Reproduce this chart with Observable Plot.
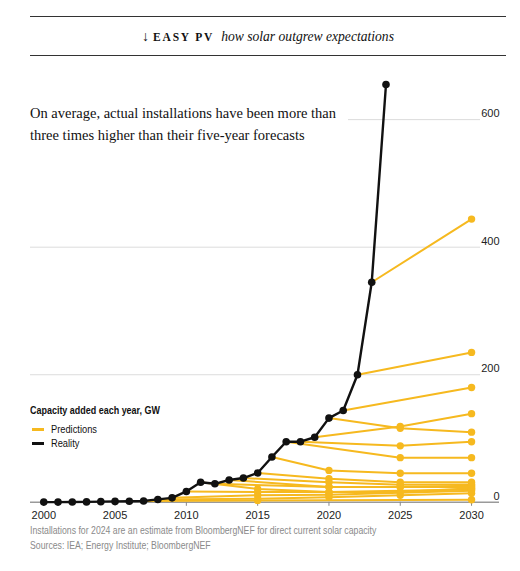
<!DOCTYPE html>
<html><head><meta charset="utf-8">
<script src="https://cdn.jsdelivr.net/npm/d3@7"></script>
<script src="https://cdn.jsdelivr.net/npm/@observablehq/plot@0.6"></script>
<style>
body{margin:0;background:#fff;width:520px;height:571px;overflow:hidden;font-family:"Liberation Sans",sans-serif;color:#111;}
#wrap{position:relative;width:520px;height:571px;}
.header{position:absolute;left:30px;top:16px;width:476px;height:38px;border-top:1.3px solid #333;border-bottom:1.3px solid #333;text-align:center;font-family:"Liberation Serif",serif;line-height:38px;color:#111;}
.header .arr{font-size:14px;font-weight:bold;margin-right:4px;}
.header .kick{font-weight:bold;font-size:11.5px;letter-spacing:1.8px;}
.header .sub{font-style:italic;font-size:13.6px;margin-left:3px;}
#chart{position:absolute;left:0;top:60px;}
.note{position:absolute;left:30px;top:102px;padding-right:12px;background:#fff;font-family:"Liberation Serif",serif;font-size:14.5px;line-height:22px;color:#111;z-index:2;white-space:nowrap;}
.legend{position:absolute;left:30px;top:400px;color:#111;z-index:2;}
.sq{display:inline-block;transform-origin:left center;white-space:nowrap;}
.legend .lt{font-weight:bold;font-size:10.8px;margin-bottom:6px;transform:scaleX(0.83);}
.legend .it{height:14px;line-height:14px;display:flex;align-items:center;font-size:10.8px;}
.legend .it span.t{transform:scaleX(0.86);}
.legend .sw{width:12px;height:3px;margin:0 7px 0 2px;flex:none;}
.foot{position:absolute;left:30px;top:523px;font-size:10.5px;color:#8a8a8a;line-height:15px;}
.foot .sq{transform:scaleX(0.83);}
</style></head>
<body><div id="wrap">
<div class="header"><span class="arr">↓</span><span class="kick">EASY PV</span> <span class="sub">how solar outgrew expectations</span></div>
<div class="note">On average, actual installations have been more than<br>three times higher than their five-year forecasts</div>
<div id="chart"></div>
<div class="legend"><div class="lt sq">Capacity added each year, GW</div>
<div class="it"><span class="sw" style="background:#f6b91f"></span><span class="t sq">Predictions</span></div>
<div class="it"><span class="sw" style="background:#111"></span><span class="t sq">Reality</span></div></div>
<div class="foot"><span class="sq">Installations for 2024 are an estimate from BloombergNEF for direct current solar capacity</span><br><span class="sq">Sources: IEA; Energy Institute; BloombergNEF</span></div>
</div>
<script>
const realityYears = [2000,2001,2002,2003,2004,2005,2006,2007,2008,2009,2010,2011,2012,2013,2014,2015,2016,2017,2018,2019,2020,2021,2022,2023,2024];
const realityGW   = [0.3,0.3,0.4,0.6,1.0,1.4,1.6,2.0,4.5,7,17,31.5,29,35,38,46,71,95,95,102,132,144,200,345,655];

const forecastIssued = [2007,2008,2009,2010,2011,2012,2013,2014,2015,2016,2017,2018,2019,2020,2021,2022,2023];
const forecastTargets = [
  [2015,2030],
  [2015,2020,2025,2030],
  [2015,2020,2030],
  [2015,2020,2030],
  [2015,2020,2025,2030],
  [2020,2025,2030],
  [2020,2025,2030],
  [2020,2025,2030],
  [2020,2025,2030],
  [2020,2025,2030],
  [2025,2030],
  [2025,2030],
  [2025,2030],
  [2025,2030],
  [2030],
  [2030],
  [2030]
];
const forecastGW = [
  [3,4],
  [5.5,8,11,14],
  [11,12,18],
  [16,16,20],
  [21,16,16,22],
  [24,24,26],
  [24,24,24],
  [31.5,27.5,28],
  [37,31.5,31.5],
  [50,45.5,45.5],
  [70,70],
  [88.5,95],
  [119,139],
  [116,110],
  [180],
  [235],
  [444]
];
const yTicks = [0,200,400,600];
const xTicks = [2000,2005,2010,2015,2020,2025,2030];

const reality = realityYears.map((year,i)=>({year, gw: realityGW[i]}));
const realityOf = new Map(reality.map(d=>[d.year,d.gw]));
const predPoints = [];
forecastIssued.forEach((issued,k)=>{
  predPoints.push({issued, year: issued, gw: realityOf.get(issued), start:true});
  forecastTargets[k].forEach((year,j)=>predPoints.push({issued, year, gw: forecastGW[k][j], start:false}));
});

const yellow = "#f6b91f";
const chart = Plot.plot({
  width:520, height:465,
  marginLeft:30, marginRight:21, marginTop:10, marginBottom:23.2,
  style:{fontFamily:'"Liberation Sans",sans-serif', background:"transparent"},
  x:{domain:[1999.07, 2031.96], axis:null},
  y:{domain:[0,677], axis:null},
  marks:[
    Plot.ruleY(yTicks.filter(d=>d>0),{y:d=>d, stroke:"#dcdcdc", strokeWidth:1, insetRight:19}),
    Plot.text(yTicks,{y:d=>d, text:d=>String(d), frameAnchor:"right", textAnchor:"end", dy:-6, fontSize:11, fill:"#222"}),
    Plot.ruleY([0],{stroke:"#9a9a9a", strokeWidth:1.5}),
    Plot.axisX({ticks:xTicks, tickFormat:d=>String(d), tickSize:4, tickPadding:5, fontSize:11, stroke:"#888", color:"#222", label:null}),
    Plot.line(predPoints,{x:"year", y:"gw", z:"issued", stroke:yellow, strokeWidth:2}),
    Plot.dot(predPoints.filter(d=>!d.start),{x:"year", y:"gw", r:3.7, fill:yellow}),
    Plot.line(reality,{x:"year", y:"gw", stroke:"#111", strokeWidth:2.4}),
    Plot.dot(reality,{x:"year", y:"gw", r:3.8, fill:"#111"})
  ]
});
document.getElementById("chart").appendChild(chart);
</script>
</body></html>
